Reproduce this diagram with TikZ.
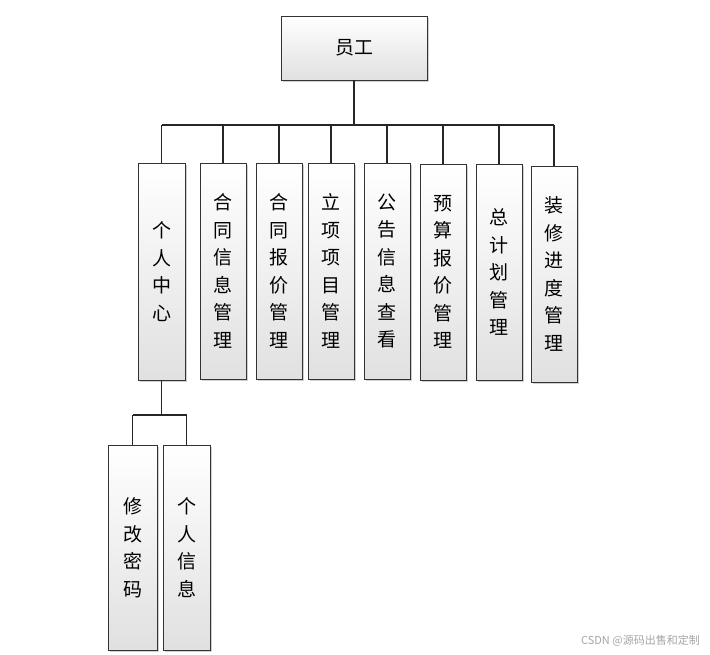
\documentclass[tikz,border=0pt]{standalone}
\usepackage{fontspec}
\newfontfamily\cjk{Noto Sans CJK SC}
\usetikzlibrary{shadows}
\begin{document}
\begin{tikzpicture}[x=1pt,y=-1pt,
  box/.style={draw=black!80,line width=0.8pt,top color=white,bottom color=black!12,
    drop shadow={shadow xshift=2pt,shadow yshift=-2pt,fill=black!30,opacity=0.6},
    align=center,font=\cjk\fontsize{19}{27.5}\selectfont,inner sep=0pt},
  ln/.style={draw=black!85,line width=1.6pt}]
\useasboundingbox (0,0) rectangle (710,654);
\fill[white] (0,0) rectangle (710,654);
\node[box,minimum width=146,minimum height=64] (top) at (354,48) {员工};
\node[box,minimum width=47,minimum height=217] (b1) at (161.5,271.5) {个\\人\\中\\心};
\node[box,minimum width=46,minimum height=216] (b2) at (223,271) {合\\同\\信\\息\\管\\理};
\node[box,minimum width=46,minimum height=216] (b3) at (279,271) {合\\同\\报\\价\\管\\理};
\node[box,minimum width=46,minimum height=216] (b4) at (331,271) {立\\项\\项\\目\\管\\理};
\node[box,minimum width=46,minimum height=216] (b5) at (387,271) {公\\告\\信\\息\\查\\看};
\node[box,minimum width=46,minimum height=216] (b6) at (443,272) {预\\算\\报\\价\\管\\理};
\node[box,minimum width=46,minimum height=216] (b7) at (499,272) {总\\计\\划\\管\\理};
\node[box,minimum width=46,minimum height=216] (b8) at (554,274) {装\\修\\进\\度\\管\\理};
\node[box,minimum width=49,minimum height=205] (c1) at (132.5,547.5) {修\\改\\密\\码};
\node[box,minimum width=47,minimum height=205] (c2) at (186.5,547.5) {个\\人\\信\\息};
\draw[ln] (top.south) -- (top.south |- 0,125);
\draw[ln] (b1.north |- 0,125) -- (b8.north |- 0,125);
\foreach \b in {b1,b2,b3,b4,b5,b6,b7,b8} \draw[ln] (\b.north) -- (\b.north |- 0,125);
\draw[ln] (b1.south) -- (b1.south |- 0,415);
\draw[ln] (c1.north |- 0,415) -- (c2.north |- 0,415);
\draw[ln] (c1.north) -- (c1.north |- 0,415);
\draw[ln] (c2.north) -- (c2.north |- 0,415);
\node[anchor=east,text=black!35,font=\cjk\fontsize{11}{12}\selectfont,inner sep=0pt] (wm) at (700,641) {CSDN @源码出售和定制};
\end{tikzpicture}
\end{document}
